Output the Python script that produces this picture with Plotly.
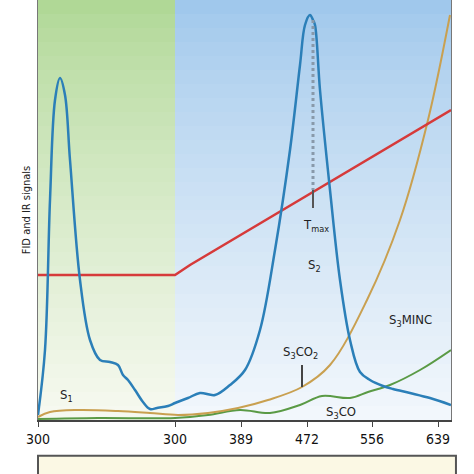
import plotly.graph_objects as go

# x in chart units (0..413), y in chart units (0..420)
tick_pos = [0, 137, 203, 269, 334, 400]
tick_text = ["300", "300", "389", "472", "556", "639"]

fid_x = [0, 7, 12, 17, 22, 27, 32, 42, 52, 62, 72, 80, 85, 90, 97, 105, 112, 119, 130, 137, 150, 162, 177, 192, 207, 222, 237, 252, 262, 267, 272, 275, 277, 282, 292, 302, 312, 322, 332, 345, 355, 372, 392, 413]
fid_y = [5, 70, 220, 320, 342, 325, 260, 140, 80, 60, 58, 55, 45, 40, 30, 18, 11, 12, 14, 17, 22, 27, 25, 35, 50, 90, 170, 270, 355, 395, 405, 400, 395, 330, 230, 140, 80, 48, 40, 34, 31, 27, 22, 15]

co2_x = [0, 12, 40, 80, 112, 140, 170, 200, 230, 264, 292, 329, 362, 390, 412]
co2_y = [3, 8, 10, 9, 7, 5, 7, 12, 20, 33, 55, 120, 200, 300, 405]

co_x = [0, 60, 137, 170, 202, 232, 262, 284, 312, 330, 352, 382, 413]
co_y = [1, 2, 2, 5, 10, 7, 15, 24, 22, 28, 35, 50, 70]

ir_x = [0, 137, 152, 413]
ir_y = [145, 145, 155, 310]

fig = go.Figure()

n = 30
def lerp(c1, c2, t):
    return "rgb(%d,%d,%d)" % tuple(int(a + (b - a) * t) for a, b in zip(c1, c2))
green_top, green_bot = (176, 216, 150), (246, 249, 240)
blue_top, blue_bot = (160, 200, 236), (242, 247, 252)
shapes = []
for i in range(n):
    y0 = 420 - (i + 1) * 420 / n
    y1 = 420 - i * 420 / n
    t = (i / (n - 1)) ** 0.8
    shapes.append(dict(type="rect", xref="x", yref="y", x0=0, x1=137, y0=y0, y1=y1,
                       fillcolor=lerp(green_top, green_bot, t), line_width=0, layer="below"))
    shapes.append(dict(type="rect", xref="x", yref="y", x0=137, x1=413, y0=y0, y1=y1,
                       fillcolor=lerp(blue_top, blue_bot, t), line_width=0, layer="below"))
shapes.append(dict(type="rect", xref="paper", yref="paper", x0=0, x1=1.012, y0=-0.2, y1=-0.085,
                   fillcolor="#fbf8e4", line=dict(color="#555", width=2), layer="below"))
shapes.append(dict(type="line", xref="x", yref="y", x0=275, x1=275, y0=400, y1=230,
                   line=dict(color="#8899aa", width=3, dash="dot")))
shapes.append(dict(type="line", xref="x", yref="y", x0=275, x1=275, y0=230, y1=212,
                   line=dict(color="#555", width=2)))
shapes.append(dict(type="line", xref="x", yref="y", x0=264, x1=264, y0=55, y1=33,
                   line=dict(color="#444", width=2)))

fig.add_trace(go.Scatter(x=co_x, y=co_y, mode="lines", line=dict(color="#5a9a45", width=2, shape="spline")))
fig.add_trace(go.Scatter(x=co2_x, y=co2_y, mode="lines", line=dict(color="#c9a050", width=2, shape="spline")))
fig.add_trace(go.Scatter(x=ir_x, y=ir_y, mode="lines", line=dict(color="#d63a3a", width=2.5)))
fig.add_trace(go.Scatter(x=fid_x, y=fid_y, mode="lines", line=dict(color="#2b7fb8", width=2.5, shape="spline")))

f = "DejaVu Sans Condensed, Liberation Sans Narrow, sans-serif"
ann = [
    dict(x=278, y=195, text="T<sub>max</sub>"),
    dict(x=276, y=155, text="S<sub>2</sub>"),
    dict(x=28, y=25, text="S<sub>1</sub>"),
    dict(x=262, y=68, text="S<sub>3</sub>CO<sub>2</sub>"),
    dict(x=372, y=100, text="S<sub>3</sub>MINC"),
    dict(x=303, y=8, text="S<sub>3</sub>CO"),
]
for a in ann:
    a.update(xref="x", yref="y", showarrow=False, font=dict(family=f, size=13, color="#222"))
fig.update_layout(
    width=474, height=474, margin=dict(l=38, r=23, t=0, b=54, pad=0),
    paper_bgcolor="white", plot_bgcolor="white", showlegend=False,
    shapes=shapes, annotations=ann, font=dict(family=f, size=13, color="#222"),
    xaxis=dict(range=[0, 413], tickvals=tick_pos, ticktext=tick_text, showgrid=False, zeroline=False,
               ticks="outside", ticklen=5, tickcolor="#444", showline=True, linecolor="#444", linewidth=2,
               tickfont=dict(family=f, size=14, color="#111"), automargin=False),
    yaxis=dict(range=[0, 420], showticklabels=False, showgrid=False, zeroline=False, ticks="",
               showline=True, linecolor="#777", linewidth=1, mirror=True, automargin=False,
               title=dict(text="FID and IR signals", font=dict(family=f, size=11, color="#222"), standoff=4)),
)
fig.write_html("out.html", config={"displayModeBar": False},
               post_script="document.body.style.margin='0';document.body.style.overflow='hidden';")
